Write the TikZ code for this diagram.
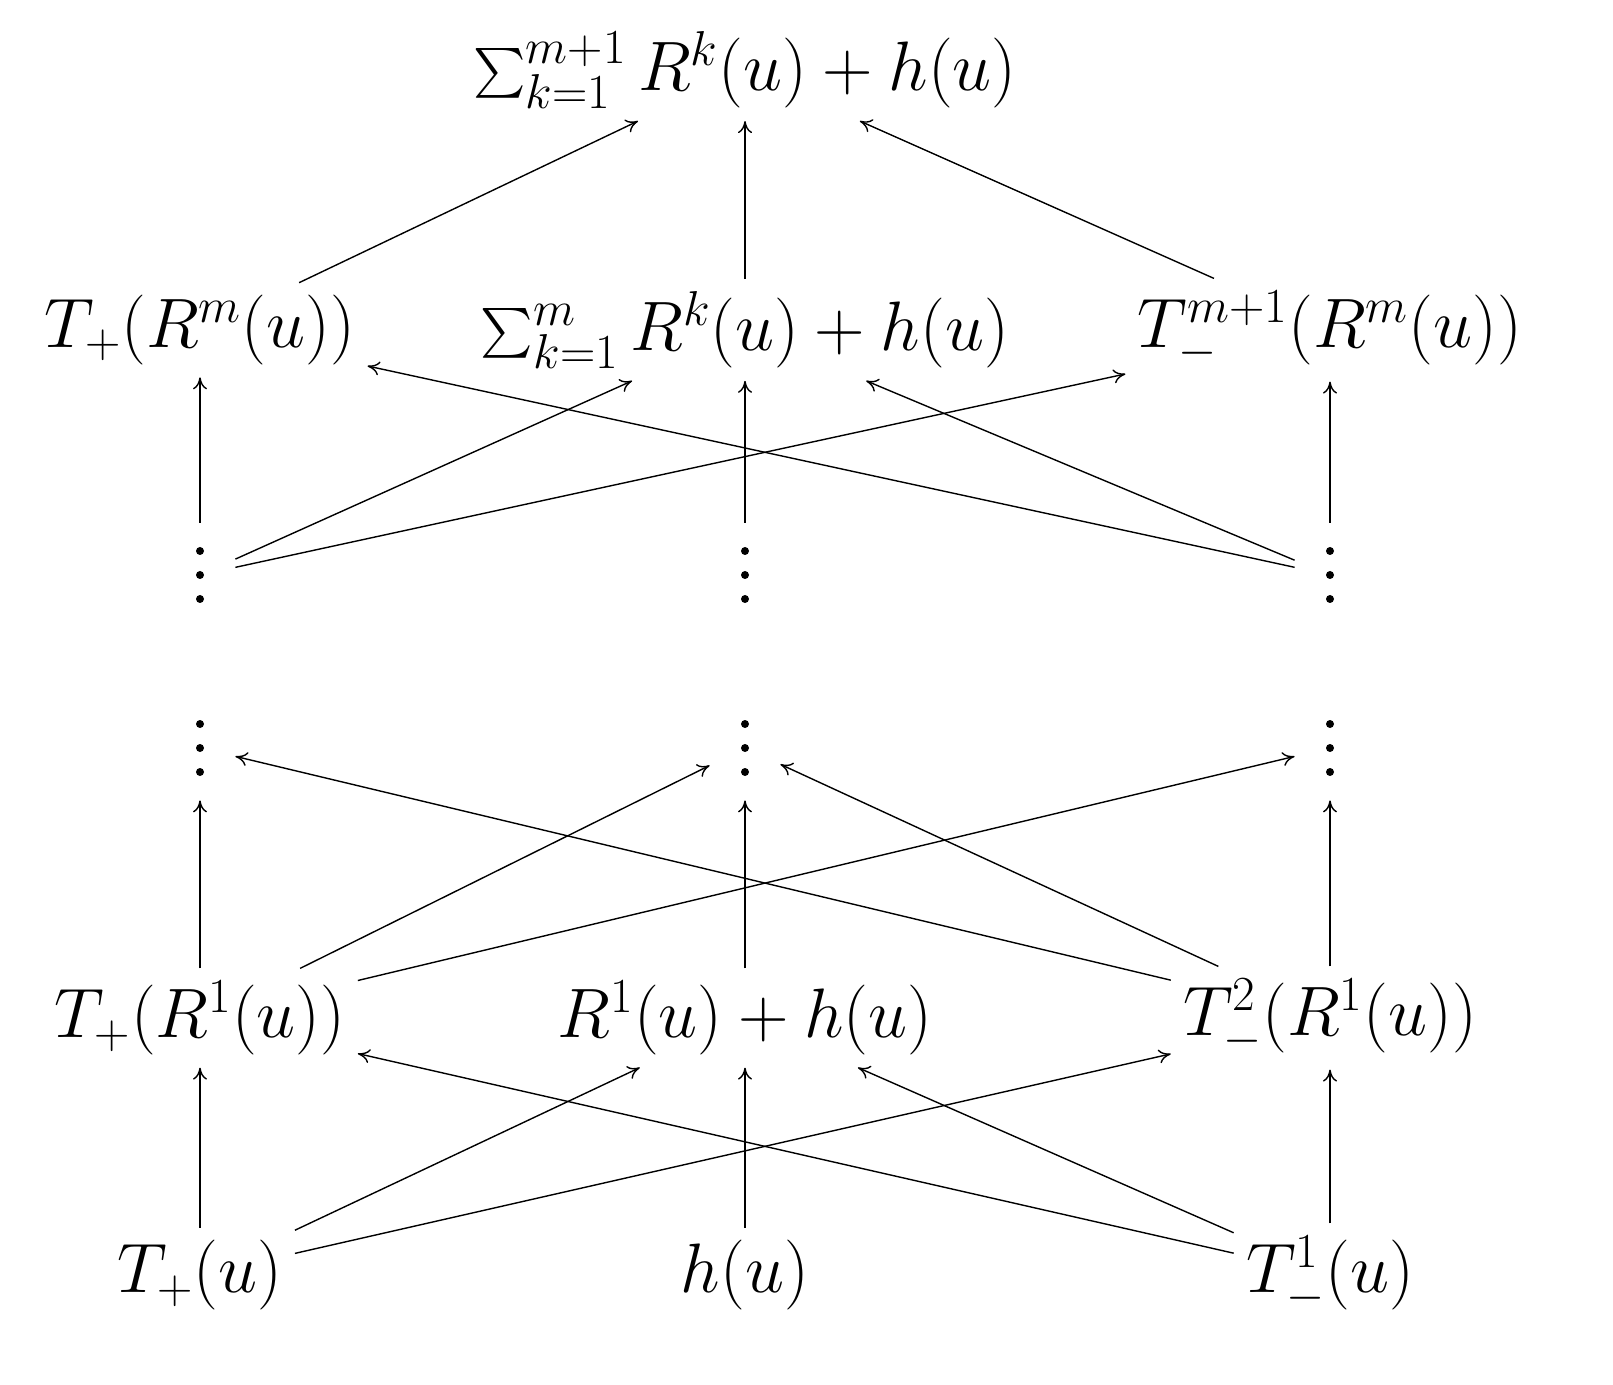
\documentclass[tikz,border=0pt]{standalone}
\usepackage{fix-cm}
\usepackage{amsmath}
\usetikzlibrary{arrows.meta}
\begin{document}
\begin{tikzpicture}[x=0.5pt,y=-0.5pt,
  every node/.style={font=\fontsize{35}{42}\selectfont, inner sep=6pt},
  dotsnode/.style={inner sep=0pt, minimum width=35pt, minimum height=52pt},
  arr/.style={-{To[length=6pt,width=7pt]}, line width=0.7pt}]
\useasboundingbox (0,0) rectangle (1613,1385);
\node (top) at (745,70) {$\sum_{k=1}^{m+1} R^k(u)+h(u)$};
\node (a1) at (200,330) {$T_+(R^m(u))$};
\node (a2) at (745,330) {$\sum_{k=1}^{m} R^k(u)+h(u)$};
\node (a3) at (1330,330) {$T_-^{m+1}(R^m(u))$};
\foreach \n/\x/\y in {d1/200/575,d2/745/575,d3/1330/575,e1/200/748,e2/745/748,e3/1330/748}{
  \node[dotsnode] (\n) at (\x,\y) {};
  \foreach \k in {-24,0,24} \fill (\x,\y+\k) circle (2pt);
}
\node (r1) at (200,1018) {$T_+(R^1(u))$};
\node (r2) at (745,1018) {$R^1(u)+h(u)$};
\node (r3) at (1330,1018) {$T_-^2(R^1(u))$};
\node (b1) at (200,1275) {$T_+(u)$};
\node (b2) at (745,1275) {$h(u)$};
\node (b3) at (1330,1275) {$T_-^1(u)$};
\foreach \s/\t in {b1/r1,b2/r2,b3/r3,b1/r2,b1/r3,b3/r1,b3/r2,
  r1/e1,r2/e2,r3/e3,r1/e2,r1/e3,r3/e1,r3/e2,
  d1/a1,d2/a2,d3/a3,d1/a2,d1/a3,d3/a1,d3/a2,
  a1/top,a2/top,a3/top}
  \draw[arr] (\s) -- (\t);
\end{tikzpicture}
\end{document}
